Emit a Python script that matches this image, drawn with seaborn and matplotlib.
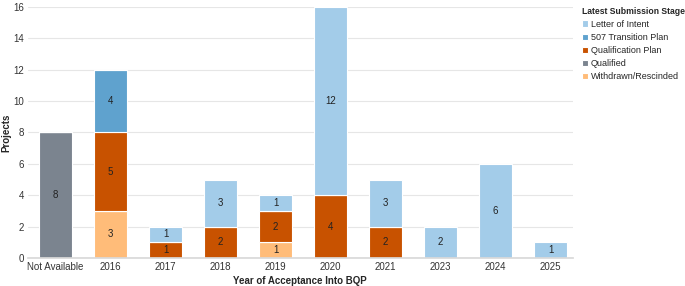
import pandas as pd
import numpy as np
import seaborn as sns
import matplotlib.pyplot as plt

# %% data
years = ["Not Available", "2016", "2017", "2018", "2019", "2020", "2021", "2023", "2024", "2025"]
stages = ["Letter of Intent", "507 Transition Plan", "Qualification Plan", "Qualified", "Withdrawn/Rescinded"]
letter_of_intent = [0, 0, 1, 3, 1, 12, 3, 2, 6, 1]
transition_507 = [0, 4, 0, 0, 0, 0, 0, 0, 0, 0]
qualification_plan = [0, 5, 1, 2, 2, 4, 2, 0, 0, 0]
qualified = [8, 0, 0, 0, 0, 0, 0, 0, 0, 0]
withdrawn = [0, 3, 0, 0, 1, 0, 0, 0, 0, 0]
colores = ["#a3cce9", "#5fa2ce", "#c85200", "#7b848f", "#ffbc79"]

series = [letter_of_intent, transition_507, qualification_plan, qualified, withdrawn]
df = pd.concat([pd.DataFrame({"year": years, "stage": s, "n": v}) for s, v in zip(stages, series)], ignore_index=True)

# %% grafico
sns.set_theme(style="white")
plt.rcParams["font.family"] = ["Liberation Sans", "DejaVu Sans"]
fig, ax = plt.subplots(figsize=(6.85, 2.86), dpi=100)
fig.subplots_adjust(left=0.041, right=0.836, bottom=0.098, top=0.976)

sns.histplot(data=df, x="year", hue="stage", weights="n", multiple="stack", discrete=True,
             shrink=0.61, hue_order=stages, palette=colores, alpha=1,
             edgecolor="white", linewidth=0.8, ax=ax)

for cont in ax.containers:
    labels = [f"{b.get_height():.0f}" if b.get_height() > 0 else "" for b in cont]
    ax.bar_label(cont, labels=labels, label_type="center", fontsize=7, color="#222222")

ax.set_xlim(-0.5, 9.4)
ax.set_ylim(0, 16)
ax.set_yticks(range(0, 17, 2))
ax.grid(axis="y", color="#e6e6e6", linewidth=0.8)
ax.set_axisbelow(True)
for sp in ["top", "right", "left"]:
    ax.spines[sp].set_visible(False)
ax.spines["bottom"].set_color("#d9d9d9")
ax.tick_params(axis="both", labelsize=7, colors="#333333", length=0, pad=3)
ax.set_xlabel("Year of Acceptance Into BQP", fontsize=7, fontweight="bold", labelpad=3)
ax.set_ylabel("Projects", fontsize=7, fontweight="bold")
ax.yaxis.set_label_coords(-0.031, 0.5)

sns.move_legend(ax, "upper left", bbox_to_anchor=(1.01, 1.015), frameon=False,
                title="Latest Submission Stage", fontsize=6.5, title_fontsize=6.2,
                handlelength=0.7, handleheight=0.7, handletextpad=0.3, labelspacing=0.45,
                borderaxespad=0)
ax.get_legend().get_title().set_fontweight("bold")
ax.get_legend()._legend_box.align = "left"

plt.savefig("out.png", dpi=100)
